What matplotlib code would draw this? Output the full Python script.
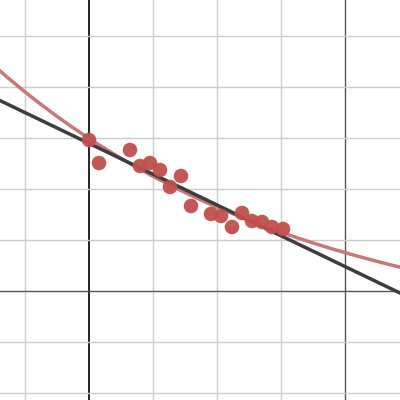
import numpy as np
import matplotlib
matplotlib.use("Agg")
import matplotlib.pyplot as plt

px = [89,99,130,140,150,160,170,181,191,211,221,232,242,252,262,272,283]
py = [140,163,150,166,163,170,187,176,206,214,216,227,213,221,222,227,229]
xs = [(p-89)/64 for p in px]
ys = [(291-p)/51 for p in py]

fig = plt.figure(figsize=(4,4), dpi=100)
ax = fig.add_axes([0,0,1,1])
x0, x1 = -89/64, 311/64
y0, y1 = (291-400)/51, 291/51
ax.set_xlim(x0, x1); ax.set_ylim(y0, y1)
for i in range(-1, 5):
    ax.axvline(i, color='#000000' if i == 0 else ('#555555' if i == 4 else '#cccccc'), lw=1.2 if i == 0 else 1, zorder=0)
for j in range(-2, 6):
    ax.axhline(j, color='#555555' if j == 0 else '#cccccc', lw=1, zorder=0)
ax.axis('off')

X = np.array(xs); Y = np.array(ys)
xx = np.linspace(x0, x1, 200)
# exponential fit y = a*exp(b x) + c approximated via log-linear on shifted data
c = 1.0
b, la = np.polyfit(X, np.log(Y + c), 1)
ax.plot(xx, np.exp(la)*np.exp(b*xx) - c, color='#c87878', lw=2.5, zorder=2)
m, k = np.polyfit(X, Y, 1)
ax.plot(xx, m*xx + k, color='#3d3d3d', lw=2.5, zorder=3)
ax.scatter(X, Y, s=110, color='#c0504d', alpha=0.95, zorder=4, edgecolors='none')
fig.savefig('out.png')
